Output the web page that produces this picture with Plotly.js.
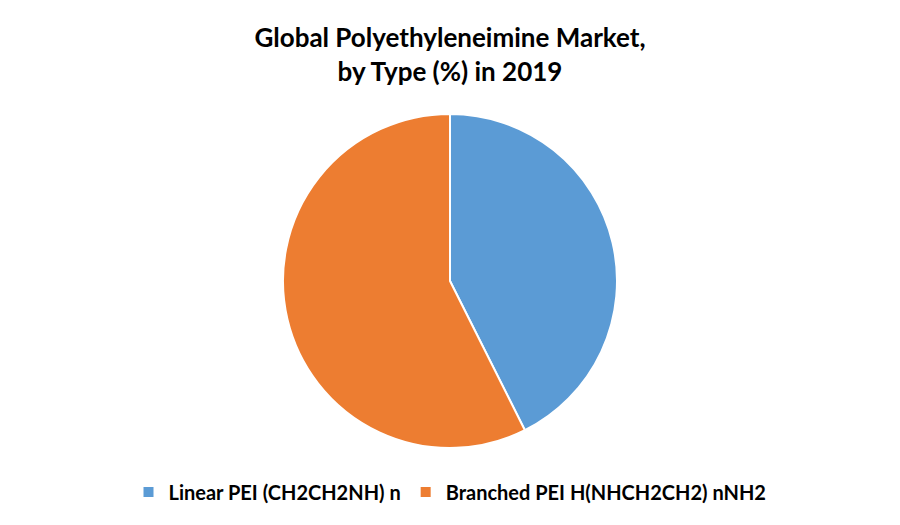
<!DOCTYPE html>
<html>
<head>
<meta charset="utf-8">
<script src="https://cdn.plot.ly/plotly-3.0.1.min.js"></script>
<style>
  html, body { margin: 0; padding: 0; background: #fff; }
  #graph { width: 900px; height: 525px; }
</style>
</head>
<body>
<div id="graph"></div>
<script>
var types = ['Linear PEI (CH2CH2NH) n', 'Branched PEI H(NHCH2CH2) nNH2'];
var shares = [42.6, 57.4];
var colors = ['#5b9bd5', '#ed7d31'];

var trace = {
  type: 'pie',
  labels: types,
  values: shares,
  sort: false,
  direction: 'clockwise',
  rotation: 0,
  textinfo: 'none',
  hoverinfo: 'label+percent',
  marker: { colors: colors, line: { color: '#ffffff', width: 2 } },
  domain: { x: [0.3144, 0.6856], y: [0.1467, 0.7829] }
};

var layout = {
  width: 900,
  height: 525,
  margin: { l: 0, r: 0, t: 0, b: 0 },
  paper_bgcolor: '#ffffff',
  font: { family: 'Lato, "Open Sans", sans-serif', color: '#000000' },
  title: {
    text: '<b>Global Polyethyleneimine Market,<br>by Type (%) in 2019</b>',
    font: { size: 26, color: '#000000' },
    x: 0.5, xanchor: 'center',
    y: 0.911, yanchor: 'middle'
  },
  showlegend: true,
  legend: {
    orientation: 'h',
    x: 0.5, xanchor: 'center',
    y: 0.063, yanchor: 'middle',
    font: { size: 20, color: '#000000', weight: 700 },
    itemwidth: 30,
    traceorder: 'normal'
  }
};

Plotly.newPlot('graph', [trace], layout, { displayModeBar: false });
</script>
</body>
</html>
